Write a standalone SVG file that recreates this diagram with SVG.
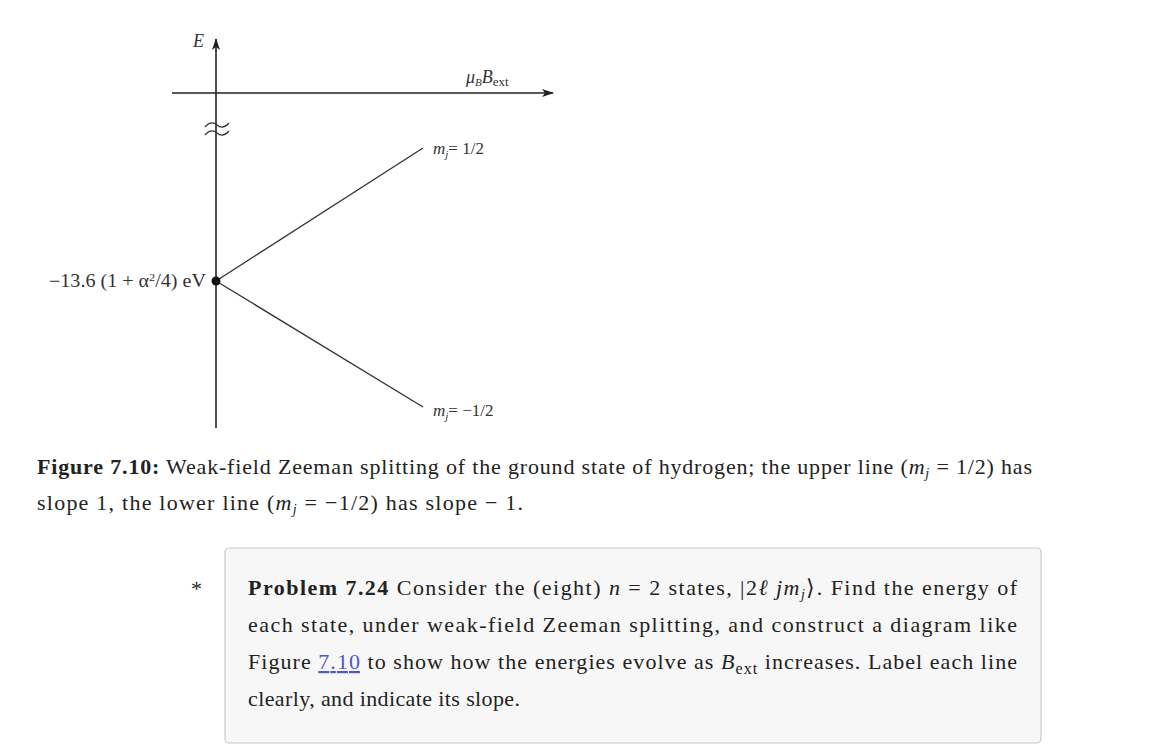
<svg xmlns="http://www.w3.org/2000/svg" width="1152" height="756" viewBox="0 0 1152 756">
<style>
.ax{stroke:#222;stroke-width:1.6;fill:none}
.ln{stroke:#333;stroke-width:1.3;fill:none}
.f{font-family:"Liberation Serif",serif;fill:#333}
.t{font-family:"Liberation Serif",serif;fill:#222;font-size:22px}
.m{font-style:italic}
</style>
<defs><marker id="ar" markerWidth="12" markerHeight="8" refX="11" refY="4" orient="auto" markerUnits="userSpaceOnUse"><path d="M0,0 L12,4 L0,8 L3,4 Z" fill="#222"/></marker></defs>
<rect width="1152" height="756" fill="#fff"/>
<g id="connectors">
<line class="ax" x1="216" y1="428" x2="216" y2="39" marker-end="url(#ar)"/>
<line class="ax" x1="172" y1="93" x2="553" y2="93" marker-end="url(#ar)"/>
<line class="ln" x1="216" y1="281" x2="423" y2="148"/>
<line class="ln" x1="216" y1="281" x2="423" y2="407"/>
</g>
<g id="break"><path class="ln" d="M205,127 q6,-7 12,-2 t12,-2 M205,135 q6,-7 12,-2 t12,-2" stroke="#444"/></g>
<g id="origin"><circle cx="216" cy="281" r="4.5" fill="#111"/>
<text class="f" x="49" y="287" font-size="18" textLength="157" lengthAdjust="spacingAndGlyphs">−13.6 (1 + α<tspan dy="-6" font-size="11">2</tspan><tspan dy="6">/4) eV</tspan></text></g>
<text class="f m" x="193" y="47" font-size="18">E</text>
<text class="f m" x="466" y="83" font-size="18">μ<tspan font-size="11" dy="3">B</tspan><tspan dy="-3">B</tspan><tspan font-size="13" dy="3" font-style="normal">ext</tspan></text>
<text class="f" x="433" y="154" font-size="17"><tspan class="m">m</tspan><tspan class="m" font-size="11" dy="4">j</tspan><tspan dy="-4">= 1/2</tspan></text>
<text class="f" x="433" y="416" font-size="17"><tspan class="m">m</tspan><tspan class="m" font-size="11" dy="4">j</tspan><tspan dy="-4">= −1/2</tspan></text>
<text class="t" x="37" y="474" textLength="995" lengthAdjust="spacing"><tspan font-weight="bold">Figure 7.10:</tspan> Weak-field Zeeman splitting of the ground state of hydrogen; the upper line (<tspan class="m">m</tspan><tspan class="m" font-size="14" dy="4">j</tspan><tspan dy="-4"> = 1/2) has</tspan></text>
<text class="t" x="37" y="510" textLength="486" lengthAdjust="spacing">slope 1, the lower line (<tspan class="m">m</tspan><tspan class="m" font-size="14" dy="4">j</tspan><tspan dy="-4"> = −1/2) has slope − 1.</tspan></text>
<g id="problem">
<rect x="225" y="548" width="816" height="195" rx="4" fill="#f7f7f7" stroke="#c8c8c8" stroke-width="1.2"/>
<text class="t" x="191" y="596">*</text>
<text class="t" x="248" y="595" textLength="769" lengthAdjust="spacing"><tspan font-weight="bold">Problem 7.24</tspan> Consider the (eight) <tspan class="m">n</tspan> = 2 states, |2<tspan class="m">ℓ jm</tspan><tspan class="m" font-size="14" dy="4">j</tspan><tspan dy="-4">⟩. Find the energy of</tspan></text>
<text class="t" x="248" y="632" textLength="769" lengthAdjust="spacing">each state, under weak-field Zeeman splitting, and construct a diagram like</text>
<text class="t" x="248" y="669" textLength="769" lengthAdjust="spacing">Figure <tspan fill="#4a5bc4" text-decoration="underline">7.10</tspan> to show how the energies evolve as <tspan class="m">B</tspan><tspan font-size="16" dy="5">ext</tspan><tspan dy="-5"> increases. Label each line</tspan></text>
<text class="t" x="248" y="706" textLength="272" lengthAdjust="spacing">clearly, and indicate its slope.</text>
</g>
</svg>
